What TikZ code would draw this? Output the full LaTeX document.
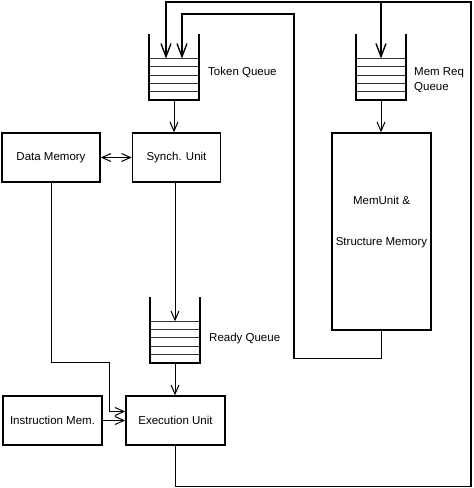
\documentclass[tikz,border=0pt]{standalone}
\usepackage{fontspec}
\setmainfont{Liberation Sans}
\usetikzlibrary{arrows.meta,calc}
\begin{document}
\begin{tikzpicture}[x=1pt,y=-1pt,
  box/.style={draw,line width=1.6pt,inner sep=0pt,font=\fontsize{11.5}{13}\selectfont},
  qarea/.style={inner sep=0pt,minimum width=50pt,minimum height=41.3pt},
  lbl/.style={inner sep=0pt,anchor=west,font=\fontsize{11.5}{13}\selectfont},
  conn/.style={line width=1pt,-{Straight Barb[length=9pt,width=8pt]}},
  bigconn/.style={line width=1.6pt,-{Straight Barb[length=13pt,width=10pt,line width=1.4pt]}},
  wall/.style={line width=1.6pt},
  stripe/.style={line width=0.8pt,black!80}]
\useasboundingbox (0,0) rectangle (474,488);
\fill[white] (0,0) rectangle (474,488);
% boxes
\node[box,minimum width=98pt,minimum height=49pt] (dm) at (51,157.5) {Data Memory};
\node[box,minimum width=88pt,minimum height=49pt] (su) at (176.5,157.5) {Synch. Unit};
\node[box,minimum width=99pt,minimum height=197pt] (mu) at (381.5,231.5) {};
\node[box,minimum width=99pt,minimum height=49pt] (im) at (52.5,420.5) {Instruction Mem.};
\node[box,minimum width=99pt,minimum height=49pt] (eu) at (175.5,420.5) {Execution Unit};
\node[lbl,anchor=center] (mut1) at (381.5,200) {MemUnit \&};
\node[lbl,anchor=center] (mut2) at (381.5,243) {Structure Memory};
% queues
\node[qarea] (tq) at (174,79.35) {};
\node[qarea] (mq) at (381,79.35) {};
\node[qarea] (rq) at (175,342.05) {};
\foreach \q in {tq,mq,rq}{
  \foreach \i in {1,2,3,4}{
    \draw[stripe] ($(\q.north west)!\i/5!(\q.south west)$) -- ($(\q.north east)!\i/5!(\q.south east)$);
  }
  \draw[stripe] (\q.north west) -- (\q.north east);
  \draw[wall] ([yshift=24.5pt]\q.north west) -- (\q.south west) -- (\q.south east) -- ([yshift=24.5pt]\q.north east);
}
\node[lbl] (tql) at (208,72) {Token Queue};
\node[lbl,align=left] (mql) at (414,80) {Mem Req\\[2pt]Queue};
\node[lbl] (rql) at (209,339) {Ready Queue};
% corners
\coordinate (c1) at (471,486.5);
\coordinate (c2) at (471,2);
\coordinate (d1) at (294,358.5);
\coordinate (d2) at (294,14);
\coordinate (e1) at (109.5,362.5);
% connectors
\draw[bigconn] (eu.south) |- (c1) -- (c2) -| ([xshift=-8pt]tq.north);
\draw[bigconn] (mq.north |- c2) -- (mq.north);
\draw[bigconn] (mu.south) |- (d1) -- (d2) -| ([xshift=8pt]tq.north);
\draw[conn] (mq.south) -- (mq.south |- mu.north);
\draw[conn] (tq.south) -- (tq.south |- su.north);
\draw[line width=1pt,{Straight Barb[length=9pt,width=8pt]}-{Straight Barb[length=9pt,width=8pt]}] (dm.east) -- (su.west);
\draw[conn] (rq.north |- su.south) -- (rq.north);
\draw[conn] (rq.south) -- (rq.south |- eu.north);
\draw[conn] (dm.south) |- (e1) |- ([yshift=9pt]eu.west);
\draw[conn] (im.east) -- (eu.west);
\end{tikzpicture}
\end{document}
